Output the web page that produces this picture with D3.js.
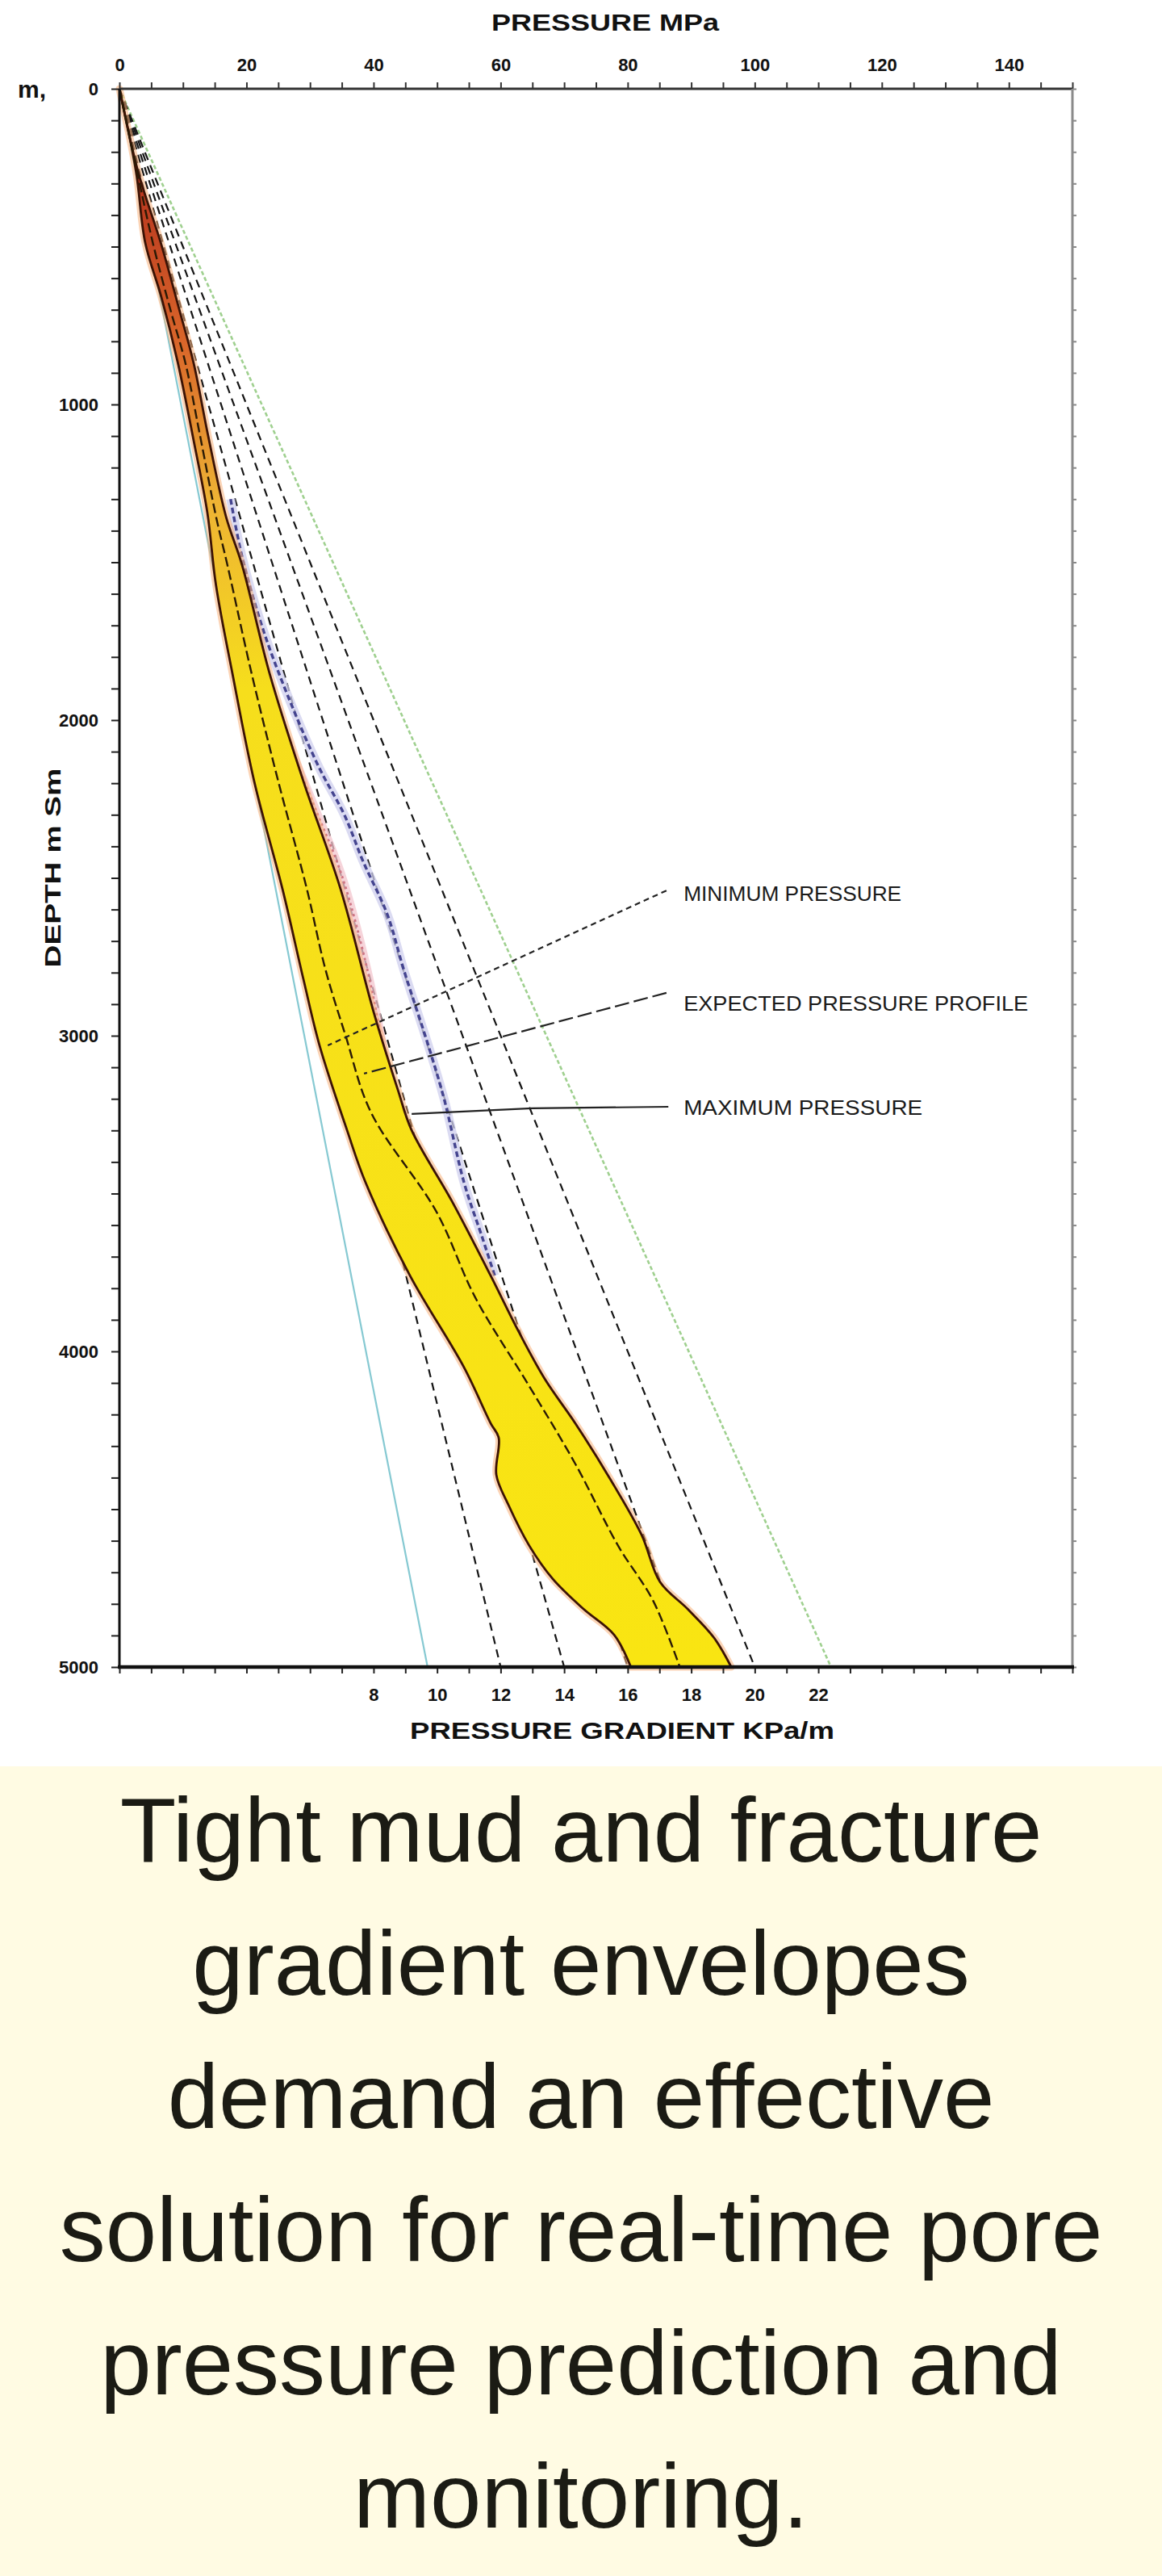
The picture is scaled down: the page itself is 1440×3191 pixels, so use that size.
<!DOCTYPE html>
<html>
<head>
<meta charset="utf-8">
<script src="https://cdn.jsdelivr.net/npm/d3@7"></script>
<style>
  html, body { margin: 0; padding: 0; background: #ffffff; }
  svg { display: block; }
  .tick text { font-family: "Liberation Sans Narrow", "Liberation Sans", Arial, sans-serif; font-weight: bold; fill: #111; }
</style>
</head>
<body>
<svg id="chart" width="1440" height="3191"></svg>
<script>
// ---------------- DATA ----------------
const pressureTicks = [0, 20, 40, 60, 80, 100, 120, 140];          // MPa (top axis labels)
const depthTicks = [0, 1000, 2000, 3000, 4000, 5000];                // m (left axis labels)
const gradientTicks = [8, 10, 12, 14, 16, 18, 20, 22];               // kPa/m (bottom labels)
const dashedGradients = [12, 14, 16, 18, 20];                        // kPa/m radial dashed lines
const hydrostaticGradient = [9.7];                                   // teal line
const overburdenGradient = [22.4];                                   // green line

// [pressure MPa, depth m]
const minimumPressure = [[0,0],[2.6,260],[4.06,488],[6.6,660],[9.15,864],[11.69,1115],[13.84,1343],[15.2,1573],
  [17.78,1852],[21.21,2194],[25.66,2535],[28.96,2821],[31.5,3031],[35.82,3299],[38.74,3465],[45.73,3760],
  [54.24,4051],[58.43,4228],[59.7,4274],[59.32,4391],[61.22,4486],[64.52,4616],[68.21,4721],[73.03,4816],
  [77.86,4898],[80.5,5000]];
const maximumPressure = [[0,0],[2.9,260],[6.6,494],[9.4,698],[11.69,870],[13.97,1100],[16.77,1355],[19.31,1509],
  [23.63,1852],[28.96,2194],[34.8,2535],[40.14,2934],[43.82,3171],[45.98,3299],[52.33,3524],[58.43,3760],
  [62.75,3934],[66.94,4087],[71.76,4228],[77.23,4404],[82.18,4581],[85.1,4731],[89.42,4816],[93.61,4908],
  [96.3,5000]];
const expectedPressure = [[0,0],[2.75,260],[5.33,494],[8.0,698],[10.4,870],[12.7,1100],[15.2,1355],[17.0,1509],
  [20.8,1852],[25.0,2194],[29.5,2535],[32.4,2788],[35.6,3000],[39.6,3243],[49.9,3558],[56.0,3829],
  [64.5,4110],[71.8,4358],[78.5,4616],[84.0,4790],[88.2,5000]];
const blueProfile = [[17.5,1300],[19.31,1483],[22.74,1721],[26.93,1944],[31.37,2148],[35.44,2302],[38.36,2448],
  [42.17,2616],[44.71,2788],[48.9,3049],[51.19,3207],[54.24,3465],[57.16,3642],[59.06,3760]];
const pinkProfile = [[20.5,1650],[22.48,1816],[25.66,2020],[30.74,2276],[34.93,2488],[38.99,2788],[42.17,3107]];

const leaderLabels = ["MINIMUM PRESSURE", "EXPECTED PRESSURE PROFILE", "MAXIMUM PRESSURE"];
const leaderTextAnchor = [[88.8, 2550], [88.8, 2898], [88.8, 3228]];
const leaderPaths = [
  [[86.1, 2540], [32.8, 3031]],
  [[86.1, 2864], [38.5, 3120]],
  [[86.4, 3225], [65.0, 3230], [46.0, 3248]]
];

const axisTitleTop = "PRESSURE MPa";
const axisTitleBottom = "PRESSURE GRADIENT KPa/m";
const axisTitleLeft = "DEPTH m Sm";
const unitCorner = "m,";
const captionLines = ["Tight mud and fracture", "gradient envelopes", "demand an effective",
  "solution for real-time pore", "pressure prediction and", "monitoring."];

// ---------------- DRAWING ----------------
const svg = d3.select("#chart");
const W = 1440, H = 3191;
const plot = {left: 148, right: 1329, top: 110, bottom: 2065};

svg.append("rect").attr("x", 0).attr("y", 0).attr("width", W).attr("height", 2188).attr("fill", "#ffffff");
svg.append("rect").attr("x", 0).attr("y", 2188).attr("width", W).attr("height", H - 2188).attr("fill", "#fffbe3");

const x = d3.scaleLinear().domain([0, 150]).range([plot.left, plot.right]);
const y = d3.scaleLinear().domain([0, 5000]).range([plot.top, plot.bottom]);

const line = d3.line().x(d => x(d[0])).y(d => y(d[1]));
const smooth = d3.line().x(d => x(d[0])).y(d => y(d[1])).curve(d3.curveCatmullRom.alpha(0.5));

// radial gradient lines
const g = svg.append("g");
function radial(grad) { return [[0, 0], [grad * 5, 5000]]; }
g.selectAll(".teal").data(hydrostaticGradient).join("path")
  .attr("d", d => line(radial(d))).attr("stroke", "#86c9d2").attr("stroke-width", 2.2).attr("fill", "none");
g.selectAll(".green").data(overburdenGradient).join("path")
  .attr("d", d => line(radial(d))).attr("stroke", "#9fd08f").attr("stroke-width", 2.6)
  .attr("stroke-dasharray", "5,3").attr("fill", "none");
g.selectAll(".dash").data(dashedGradients).join("path")
  .attr("d", d => line(radial(d))).attr("stroke", "#151515").attr("stroke-width", 2.2)
  .attr("stroke-dasharray", "10,7").attr("fill", "none");

// pink & blue profiles
g.append("path").attr("d", smooth(pinkProfile)).attr("fill", "none")
  .attr("stroke", "#f3c6cd").attr("stroke-width", 10).attr("opacity", 0.75);
g.append("path").attr("d", smooth(pinkProfile)).attr("fill", "none")
  .attr("stroke", "#cf7684").attr("stroke-width", 2.8).attr("stroke-dasharray", "3,4");
g.append("path").attr("d", smooth(blueProfile)).attr("fill", "none")
  .attr("stroke", "#cfcfee").attr("stroke-width", 11).attr("opacity", 0.75);
g.append("path").attr("d", smooth(blueProfile)).attr("fill", "none")
  .attr("stroke", "#44448f").attr("stroke-width", 3.4).attr("stroke-dasharray", "7,4");

// envelope
const defs = svg.append("defs");
const grad = defs.append("linearGradient").attr("id", "envFill").attr("gradientUnits", "userSpaceOnUse")
  .attr("x1", 0).attr("x2", 0).attr("y1", y(0)).attr("y2", y(5000));
grad.append("stop").attr("offset", "0.05").attr("stop-color", "#b5321e");
grad.append("stop").attr("offset", "0.16").attr("stop-color", "#d9652a");
grad.append("stop").attr("offset", "0.26").attr("stop-color", "#eeb234");
grad.append("stop").attr("offset", "0.38").attr("stop-color", "#f6de1c");
grad.append("stop").attr("offset", "1").attr("stop-color", "#f9e512");

const rightRev = maximumPressure.slice().reverse();
const envPath = smooth(minimumPressure) + smooth(rightRev).replace(/^M/, "L") + "Z";
g.append("path").attr("d", envPath).attr("fill", "none").attr("stroke", "#f7b07a")
  .attr("stroke-width", 9).attr("opacity", 0.55).attr("stroke-linejoin", "round");
g.append("path").attr("d", envPath).attr("fill", "url(#envFill)");
[minimumPressure, maximumPressure].forEach(arr => {
  g.append("path").attr("d", smooth(arr)).attr("fill", "none")
    .attr("stroke", "#3b1305").attr("stroke-width", 2.8).attr("stroke-linejoin", "round");
});
g.append("path").attr("d", smooth(expectedPressure)).attr("fill", "none")
  .attr("stroke", "#2a1a05").attr("stroke-width", 2.4).attr("stroke-dasharray", "12,5");

// leaders
const leaderDash = ["7,5", "18,6", null];
leaderPaths.forEach((p, i) => {
  g.append("path").attr("d", line(p)).attr("fill", "none").attr("stroke", "#222")
    .attr("stroke-width", 2.2).attr("stroke-dasharray", leaderDash[i]);
});
const labelWidths = [270, 427, 296];
leaderLabels.forEach((t, i) => {
  svg.append("text").attr("x", x(leaderTextAnchor[i][0])).attr("y", y(leaderTextAnchor[i][1]) + 9)
    .attr("font-family", "'Liberation Sans Narrow', 'Liberation Sans', Arial, sans-serif")
    .attr("font-size", 25).attr("fill", "#1a1a1a")
    .attr("textLength", labelWidths[i]).attr("lengthAdjust", "spacingAndGlyphs").text(t);
});

// axes (ticks)
const topAxis = d3.axisTop(x).tickValues(d3.range(0, 151, 5)).tickSize(8).tickPadding(14)
  .tickFormat(d => pressureTicks.includes(d) ? d : "");
svg.append("g").attr("transform", `translate(0,${plot.top})`).call(topAxis)
  .call(s => s.select(".domain").remove())
  .call(s => s.selectAll(".tick line").attr("stroke", "#333").attr("stroke-width", 2))
  .call(s => s.selectAll(".tick text").attr("font-size", 22));

const bottomAxis = d3.axisBottom(x).tickValues(d3.range(0, 151, 5)).tickSize(8).tickFormat("");
svg.append("g").attr("transform", `translate(0,${plot.bottom})`).call(bottomAxis)
  .call(s => s.select(".domain").remove())
  .call(s => s.selectAll(".tick line").attr("stroke", "#222").attr("stroke-width", 2));

const gradAxis = d3.axisBottom(d3.scaleLinear().domain([0, 30]).range([x(0), x(150)]))
  .tickValues(gradientTicks).tickSize(0).tickPadding(26);
svg.append("g").attr("transform", `translate(0,${plot.bottom})`).call(gradAxis)
  .call(s => s.select(".domain").remove())
  .call(s => s.selectAll(".tick text").attr("font-size", 22));

const leftAxis = d3.axisLeft(y).tickValues(d3.range(0, 5001, 100)).tickSize(10).tickPadding(16)
  .tickFormat(d => depthTicks.includes(d) ? d : "");
svg.append("g").attr("transform", `translate(${plot.left},0)`).call(leftAxis)
  .call(s => s.select(".domain").remove())
  .call(s => s.selectAll(".tick line").attr("stroke", "#222").attr("stroke-width", 2))
  .call(s => s.selectAll(".tick text").attr("font-size", 22));

const rightAxis = d3.axisRight(y).tickValues(d3.range(0, 5001, 100)).tickSize(5).tickFormat("");
svg.append("g").attr("transform", `translate(${plot.right},0)`).call(rightAxis)
  .call(s => s.select(".domain").remove())
  .call(s => s.selectAll(".tick line").attr("stroke", "#888").attr("stroke-width", 2));

// frame
svg.append("line").attr("x1", plot.left).attr("x2", plot.right).attr("y1", plot.top).attr("y2", plot.top)
  .attr("stroke", "#333").attr("stroke-width", 3);
svg.append("line").attr("x1", plot.right).attr("x2", plot.right).attr("y1", plot.top).attr("y2", plot.bottom)
  .attr("stroke", "#8a8a8a").attr("stroke-width", 3);
svg.append("line").attr("x1", plot.left).attr("x2", plot.left).attr("y1", plot.top).attr("y2", plot.bottom)
  .attr("stroke", "#111").attr("stroke-width", 3);
svg.append("line").attr("x1", plot.left - 2).attr("x2", plot.right + 2).attr("y1", plot.bottom).attr("y2", plot.bottom)
  .attr("stroke", "#111").attr("stroke-width", 4.5);

// axis titles
const titleFont = "'Liberation Sans Narrow', 'Liberation Sans', Arial, sans-serif";
svg.append("text").attr("x", 750).attr("y", 38).attr("text-anchor", "middle")
  .attr("font-family", titleFont).attr("font-weight", "bold").attr("font-size", 30).attr("fill", "#111")
  .attr("textLength", 282).attr("lengthAdjust", "spacingAndGlyphs").text(axisTitleTop);
svg.append("text").attr("x", 771).attr("y", 2154).attr("text-anchor", "middle")
  .attr("font-family", titleFont).attr("font-weight", "bold").attr("font-size", 30).attr("fill", "#111")
  .attr("textLength", 526).attr("lengthAdjust", "spacingAndGlyphs").text(axisTitleBottom);
svg.append("text").attr("transform", "translate(75,1075) rotate(-90)").attr("text-anchor", "middle")
  .attr("font-family", titleFont).attr("font-weight", "bold").attr("font-size", 28).attr("fill", "#111")
  .attr("textLength", 247).attr("lengthAdjust", "spacingAndGlyphs").text(axisTitleLeft);
svg.append("text").attr("x", 22).attr("y", 121)
  .attr("font-family", titleFont).attr("font-weight", "bold").attr("font-size", 30).attr("fill", "#111")
  .text(unitCorner);

// caption
svg.append("g").selectAll("text").data(captionLines).join("text")
  .attr("x", 720).attr("y", (d, i) => 2306 + i * 165).attr("text-anchor", "middle")
  .attr("font-family", "'Liberation Sans', Arial, sans-serif").attr("font-size", 114).attr("fill", "#1b1b14")
  .text(d => d);
</script>
</body>
</html>
